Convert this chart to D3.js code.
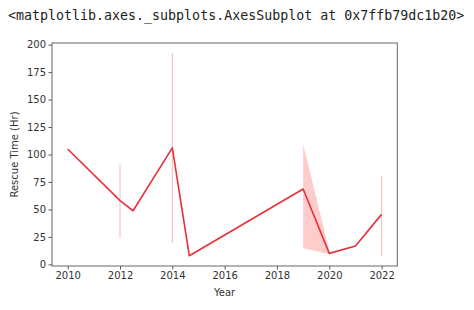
<!DOCTYPE html>
<html>
<head>
<meta charset="UTF-8" />
<script src="https://d3js.org/d3.v7.min.js"></script>
<style>
  body { margin: 0; background: #fff; }
  svg text { font-family: "DejaVu Sans", sans-serif; }
</style>
</head>
<body>
<div id="chart"></div>
<script>
// mean line
const years = [2010, 2012, 2012.5, 2014, 2014.65, 2019, 2020, 2021, 2022];
const rescue = [105, 58, 48.8, 106, 7.8, 68.6, 10, 16.7, 45.5];
// confidence interval (null where only one observation)
const ciLow = [null, 24.2, null, 19.1, null, 14.6, 9.5, null, 7.6];
const ciHigh = [null, 91, null, 192.7, null, 109.6, 12.4, null, 80.4];
const xTicks = [2010, 2012, 2014, 2016, 2018, 2020, 2022];
const yTicks = [0, 25, 50, 75, 100, 125, 150, 175, 200];

const W = 474, H = 310;
const svg = d3.select("#chart").append("svg").attr("width", W).attr("height", H);

// repr line printed by the notebook
svg.append("text")
  .attr("x", 8).attr("y", 20)
  .style("font-family", "'DejaVu Sans Mono', monospace")
  .style("font-size", "13.3px")
  .attr("fill", "#222")
  .text("<matplotlib.axes._subplots.AxesSubplot at 0x7ffb79dc1b20>");

const mLeft = 52, mRight = 397.3, mTop = 43, mBottom = 266;
const x = d3.scaleLinear().domain([2009.4, 2022.6]).range([mLeft, mRight]);
const y = d3.scaleLinear().domain([-1.5, 201.5]).range([mBottom, mTop]);

// CI band: segments between consecutive points that both have a CI
const pts = years.map((yr, i) => ({ x: yr, lo: ciLow[i], hi: ciHigh[i], v: rescue[i] }));
const area = d3.area()
  .defined(d => d.lo != null)
  .x(d => x(d.x)).y0(d => y(d.lo)).y1(d => y(d.hi));
svg.append("path").datum(pts)
  .attr("d", area)
  .attr("fill", "#ff0000").attr("fill-opacity", 0.2).attr("stroke", "none");

// isolated CIs render as thin faint vertical lines
pts.forEach((d, i) => {
  if (d.lo == null) return;
  const prev = pts[i - 1], next = pts[i + 1];
  const isolated = !(prev && prev.lo != null) && !(next && next.lo != null);
  if (isolated) {
    svg.append("line")
      .attr("x1", x(d.x)).attr("x2", x(d.x))
      .attr("y1", y(d.lo)).attr("y2", y(d.hi))
      .attr("stroke", "#f4c8c0").attr("stroke-width", 1.2);
  }
});

// mean line
const line = d3.line().x(d => x(d.x)).y(d => y(d.v));
svg.append("path").datum(pts)
  .attr("d", line)
  .attr("fill", "none")
  .attr("stroke", "#e8303a")
  .attr("stroke-width", 1.6)
  .attr("stroke-linejoin", "round");

// axes
const xAxis = d3.axisBottom(x).tickValues(xTicks).tickFormat(d3.format("d")).tickSize(3.5).tickPadding(2.5);
const yAxis = d3.axisLeft(y).tickValues(yTicks).tickSize(3.5).tickPadding(2.5);

const gx = svg.append("g").attr("transform", `translate(0,${mBottom})`).call(xAxis);
const gy = svg.append("g").attr("transform", `translate(${mLeft},0)`).call(yAxis);
[gx, gy].forEach(g => {
  g.select(".domain").remove();
  g.selectAll(".tick line").attr("stroke", "#555");
  g.selectAll(".tick text").attr("fill", "#333").style("font-size", "10px");
});

// frame
svg.append("rect")
  .attr("x", mLeft).attr("y", mTop)
  .attr("width", mRight - mLeft).attr("height", mBottom - mTop)
  .attr("fill", "none").attr("stroke", "#666").attr("stroke-width", 1);

// axis labels
svg.append("text")
  .attr("x", (mLeft + mRight) / 2).attr("y", 296)
  .attr("text-anchor", "middle")
  .style("font-size", "10px").attr("fill", "#333")
  .text("Year");
svg.append("text")
  .attr("transform", `translate(18,${(mTop + mBottom) / 2}) rotate(-90)`)
  .attr("text-anchor", "middle")
  .style("font-size", "10px").attr("fill", "#333")
  .text("Rescue Time (Hr)");
</script>
</body>
</html>
